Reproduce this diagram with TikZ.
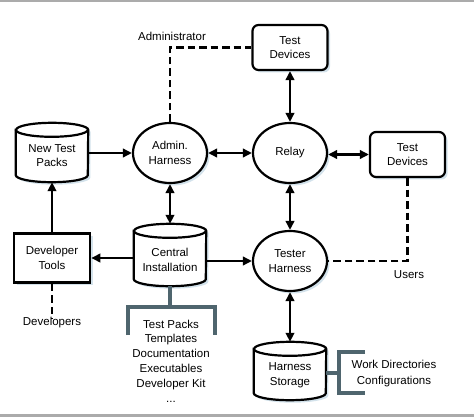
\documentclass[tikz,border=0pt]{standalone}
\usepackage{fontspec}
\setmainfont{Liberation Sans}
\usetikzlibrary{arrows.meta,shapes.geometric,shadows,backgrounds,calc}
\definecolor{brk}{HTML}{4F656E}
\definecolor{shd}{HTML}{D3E2EB}
\definecolor{band}{HTML}{ABABAB}
\newcommand\cylshape[1]{%
  \fill[shd] ($(#1.north west)+(2.5,-9.5)$) -- ($(#1.south west)+(2.5,4.5)$)
    arc[start angle=180,end angle=360,x radius=36pt,y radius=7pt]
    -- ($(#1.north east)+(2.5,-9.5)$)
    arc[start angle=0,end angle=180,x radius=36pt,y radius=7pt] -- cycle;
  \filldraw[fill=white,line width=2.2pt] ($(#1.north west)+(0,-7)$) -- ($(#1.south west)+(0,7)$)
    arc[start angle=180,end angle=360,x radius=36pt,y radius=7pt]
    -- ($(#1.north east)+(0,-7)$)
    arc[start angle=0,end angle=180,x radius=36pt,y radius=7pt] -- cycle;
  \draw[line width=2.2pt] ($(#1.north west)+(0,-7)$)
    arc[start angle=180,end angle=360,x radius=36pt,y radius=7pt];
}
\begin{document}
\begin{tikzpicture}[x=1pt,y=1pt,
  font=\fontsize{11.5}{14.5}\selectfont,
  every node/.style={align=center,inner sep=0pt},
  shad/.style={drop shadow={shadow xshift=2.5pt,shadow yshift=-2.5pt,fill=shd,opacity=1}},
  ell/.style={ellipse,draw,line width=2.2pt,fill=white,minimum width=74pt,minimum height=60pt,shad},
  dev/.style={draw,line width=2.2pt,fill=white,rounded corners=6pt,minimum width=75pt,minimum height=45pt,shad},
  tool/.style={draw,line width=2.6pt,fill=white,minimum width=76pt,minimum height=49pt,shad},
  cyl/.style={minimum width=72pt},
  con/.style={line width=2.4pt},
  arr/.style={con,-{Triangle[length=9pt,width=8.5pt]}},
  darr/.style={con,{Triangle[length=9pt,width=8.5pt]}-{Triangle[length=9pt,width=8.5pt]}},
  dsh/.style={line width=2.8pt,dash pattern=on 7.5pt off 4pt},
  bracket/.style={draw=brk,line width=3.5pt}
]
\useasboundingbox (0,0) rectangle (474,-417);
\fill[band] (0,0) rectangle (474,-2.5);
\fill[band] (0,-414) rectangle (474,-417);

% nodes
\node[ell] (admin) at (170,-153) {Admin.\\Harness};
\node[ell] (relay) at (290,-153) {Relay};
\node[ell] (tester) at (290,-261) {Tester\\Harness};
\node[dev] (topdev) at (290,-47.5) {Test\\Devices};
\node[dev] (rightdev) at (407.5,-154.5) {Test\\Devices};
\node[tool] (tools) at (52,-258) {Developer\\Tools};

\node[cyl,minimum height=59pt] (ntp) at (52,-152.5) {};
\node[cyl,minimum height=62pt] (central) at (170,-255) {};
\node[cyl,minimum height=58pt] (storage) at (290,-371) {};
\begin{pgfonlayer}{background}
  \cylshape{ntp}
  \cylshape{central}
  \cylshape{storage}
\end{pgfonlayer}
\node (ntpt) at ($(ntp.center)+(0,-3)$) {New Test\\Packs};
\node (centralt) at ($(central.center)+(0,-5)$) {Central\\Installation};
\node (storaget) at ($(storage.center)+(0,-4)$) {Harness\\Storage};

% labels
\node (adml) at (172,-36) {Administrator};
\node (users) at (409,-275) {Users};
\node (devs) at (52,-323) {Developers};
\node[font=\fontsize{11.5}{14.8}\selectfont] (list) at (171,-361)
  {Test Packs\\Templates\\Documentation\\Executables\\Developer Kit\\...};
\node[font=\fontsize{11.5}{16}\selectfont] (wlist) at (394,-374)
  {Work Directories\\Configurations};

% connectors
\draw[arr] (ntp.east |- admin.west) -- (admin.west);
\draw[darr] (admin.east) -- (relay.west);
\draw[darr] (relay.east |- rightdev.west) -- (rightdev.west);
\draw[darr] (topdev.south) -- (relay.north);
\draw[darr] (relay.south) -- (tester.north);
\draw[darr] (tester.south) -- (storage.north);
\draw[darr] (admin.south) -- (central.north);
\draw[arr] (central.west |- tools.east) -- (tools.east);
\draw[arr] (central.east |- tester.west) -- (tester.west);
\draw[arr] (tools.north) -- (ntp.south);

% dashed
\coordinate (admcorner) at (admin.north |- topdev.west);
\draw[dsh] (admin.north) -- (admcorner) -- (topdev.west);
\coordinate (usrcorner) at (rightdev.south |- tester.east);
\draw[dsh] (rightdev.south) -- (usrcorner) -- (tester.east);
\draw[dsh] (tools.south) -- ($(devs.north)+(0,-2)$);

% brackets
\coordinate (cb) at ($(central.south)+(0,-21)$);
\draw[bracket] (central.south) -- (cb);
\draw[bracket] (128,-335) |- (cb) -| (215,-335);
\coordinate (sb) at (339,-373);
\draw[bracket] (storage.east |- sb) -- (sb);
\draw[bracket] (365,-352) -| (339,-393) -- (365,-393);
\end{tikzpicture}
\end{document}
